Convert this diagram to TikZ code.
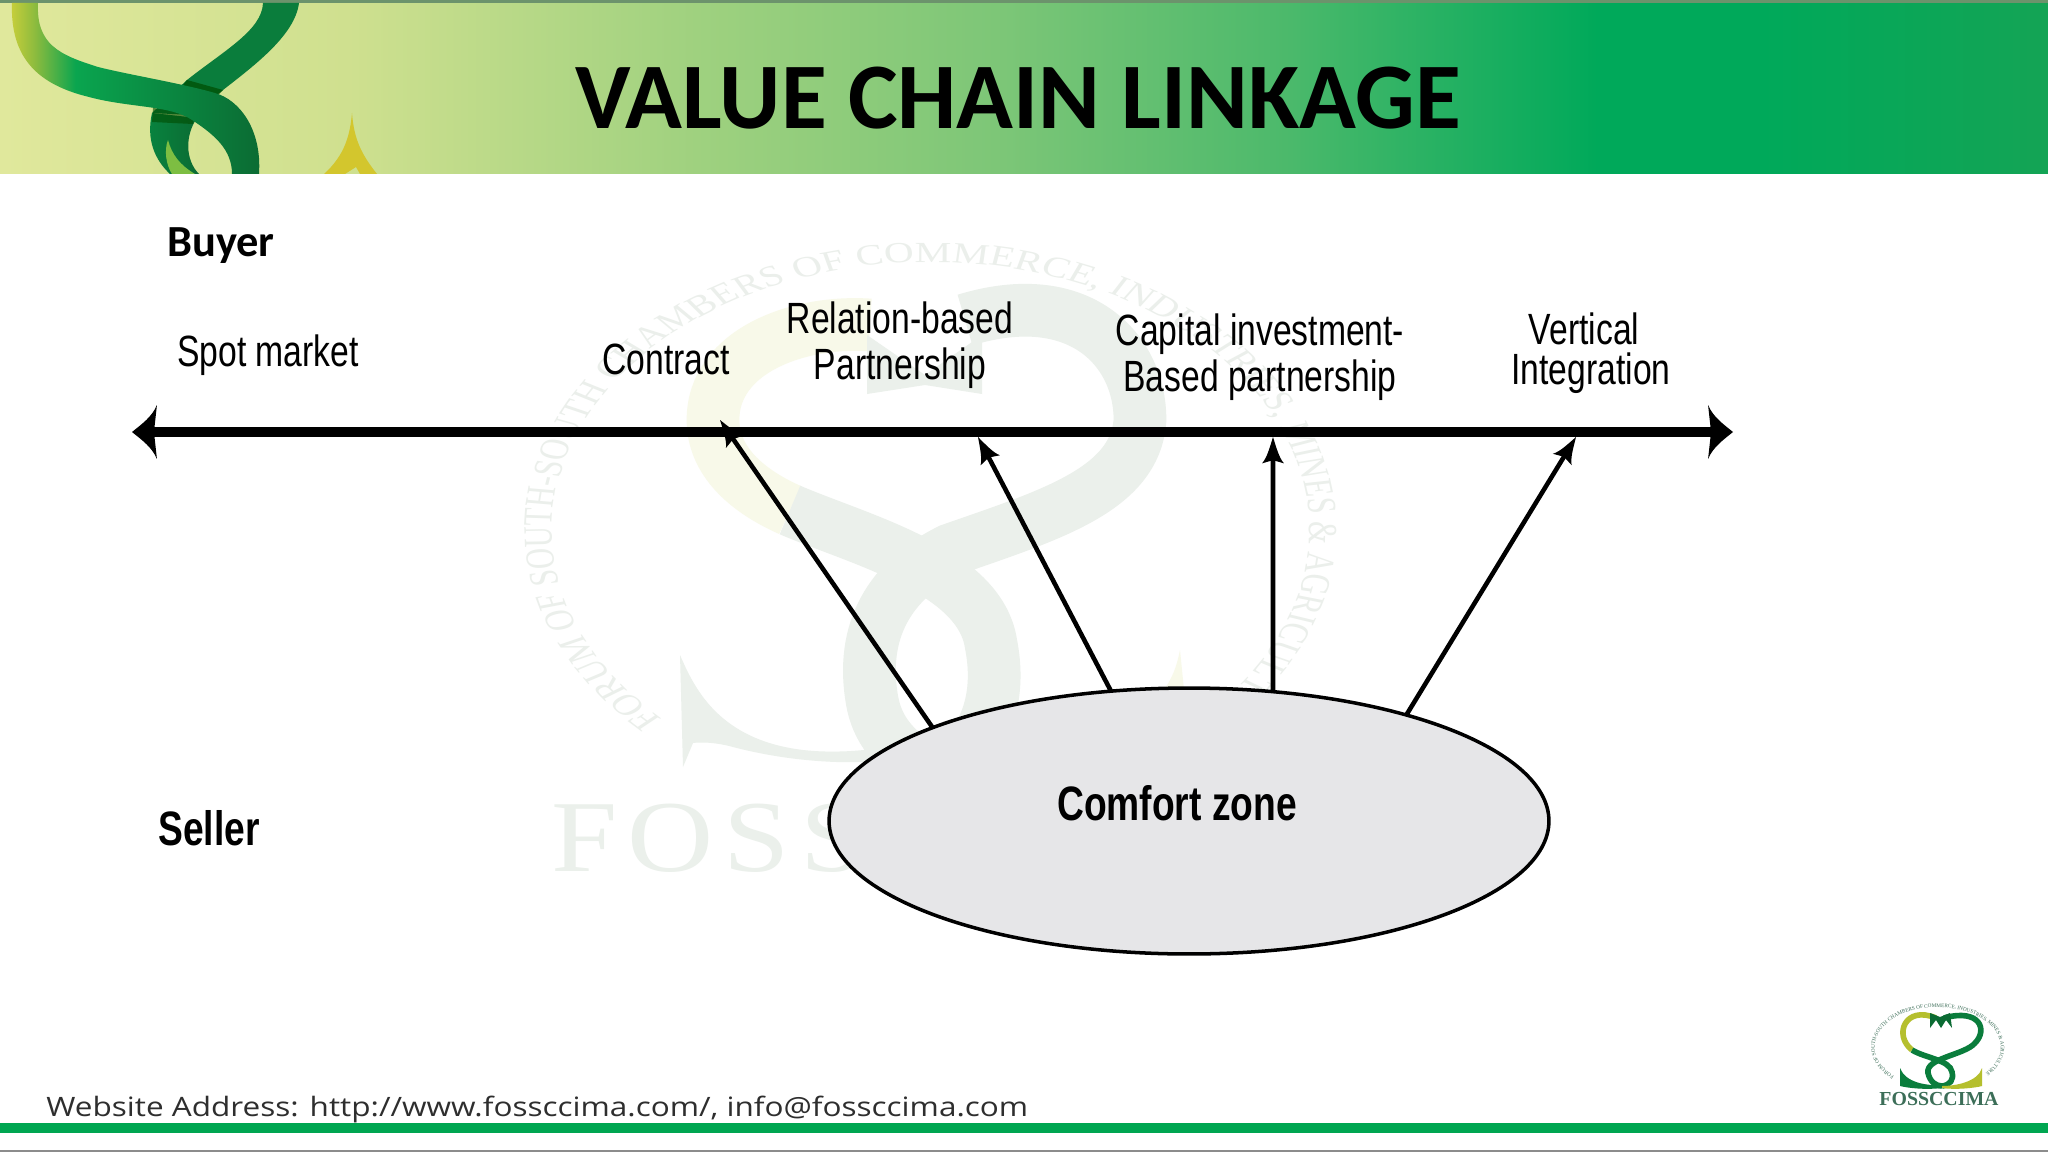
\documentclass[tikz,border=0pt]{standalone}
\usepackage{fontspec}
\setmainfont{Liberation Sans}
\newfontfamily\armn[FakeStretch=0.77]{Liberation Sans}
\newfontfamily\cali{Carlito}
\newfontfamily\webf[FakeStretch=1.18]{Open Sans}
\newfontfamily\wmf{Liberation Serif}
\newfontfamily\wmw[FakeStretch=1.17,LetterSpace=10]{Liberation Serif}
\usetikzlibrary{arrows.meta,shapes.geometric,decorations.text}
\definecolor{h0}{HTML}{E0E89C}\definecolor{h1}{HTML}{CFE08F}\definecolor{h2}{HTML}{9FD17F}
\definecolor{h3}{HTML}{7CC677}\definecolor{h4}{HTML}{4BB96B}\definecolor{h5}{HTML}{00A95A}
\definecolor{h6}{HTML}{14A455}
\definecolor{wm}{HTML}{EBF0EB}\definecolor{wmy}{HTML}{F8F9E9}\definecolor{wmt}{HTML}{EBEFEB}
\definecolor{zonefill}{HTML}{E6E6E8}\definecolor{fgreen}{HTML}{00A651}
\definecolor{dgreen}{HTML}{0A7D3C}\definecolor{ddgreen}{HTML}{0B6B33}
\definecolor{yhorn}{HTML}{D3C62D}\definecolor{logotxt}{HTML}{3C6E58}\definecolor{logoy}{HTML}{B5BF2E}
\definecolor{r0}{HTML}{C9CF3A}\definecolor{r1}{HTML}{8CBB3E}\definecolor{r2}{HTML}{0AA54F}\definecolor{r3}{HTML}{0A8A42}\definecolor{r4}{HTML}{0B6B33}
\pgfdeclarehorizontalshading{hdr}{100bp}{color(0bp)=(h0);color(25bp)=(h0);color(33.5bp)=(h1);color(42bp)=(h2);color(49.5bp)=(h3);color(56.5bp)=(h4);color(64bp)=(h5);color(68bp)=(h5);color(75bp)=(h6);color(100bp)=(h6)}
\pgfdeclarehorizontalshading{rib}{100bp}{color(0bp)=(r0);color(25bp)=(r0);color(30bp)=(r1);color(38bp)=(r2);color(55bp)=(r3);color(75bp)=(r4);color(100bp)=(r4)}
\pgfdeclarearrow{
  name=BarbHead,
  parameters={\the\pgfarrowlength,\the\pgfarrowwidth},
  setup code={
    \pgfarrowssettipend{\pgfarrowlength}
    \pgfarrowssetlineend{.5\pgfarrowlength}
    \pgfarrowssetbackend{0pt}
    \pgfarrowssavethe\pgfarrowlength
    \pgfarrowssavethe\pgfarrowwidth
  },
  drawing code={
    \pgfpathmoveto{\pgfqpoint{\pgfarrowlength}{0pt}}
    \pgfpathcurveto{\pgfqpoint{.6\pgfarrowlength}{.15\pgfarrowwidth}}{\pgfqpoint{.2\pgfarrowlength}{.28\pgfarrowwidth}}{\pgfqpoint{0pt}{.5\pgfarrowwidth}}
    \pgfpathlineto{\pgfqpoint{.12\pgfarrowlength}{0pt}}
    \pgfpathlineto{\pgfqpoint{0pt}{-.5\pgfarrowwidth}}
    \pgfpathcurveto{\pgfqpoint{.2\pgfarrowlength}{-.28\pgfarrowwidth}}{\pgfqpoint{.6\pgfarrowlength}{-.15\pgfarrowwidth}}{\pgfqpoint{\pgfarrowlength}{0pt}}
    \pgfpathclose
    \pgfusepathqfill
  },
  defaults={length=14pt,width=30pt}
}
\tikzset{
  axisline/.style={line width=6pt,{BarbHead[length=14.2pt,width=30.7pt]}-{BarbHead[length=14.2pt,width=30.7pt]}},
  link/.style={line width=2.6pt,-{BarbHead[length=15pt,width=12.5pt]}},
  lbl/.style={font={\armn\fontsize{24.9}{26}\selectfont},align=center,inner sep=0pt,text=black},
  boldlbl/.style={font={\armn\bfseries\fontsize{27.5}{28}\selectfont},align=center,inner sep=0pt,text=black},
  zone/.style={ellipse,draw=black,line width=2pt,fill=zonefill,minimum width=14.4cm,minimum height=5.32cm,inner sep=0pt,outer sep=0pt},
  wmband/.style={draw=wm,line width=30pt,line cap=butt},
}
\begin{document}
\begin{tikzpicture}[x=0.02cm,y=-0.02cm]
\useasboundingbox (0,0) rectangle (2048,1152);
\fill[white] (0,0) rectangle (2048,1152);
% header
\shade[shading=hdr] (0,0) rectangle (2048,174);
\fill[gray!85!green] (0,0) rectangle (2048,3);
% header ribbon
\begin{scope}
\clip (0,3) rectangle (420,174);
\fill[dgreen] (263,3) -- (299,3) .. controls (295,35) and (255,65) .. (223,90) -- (192,115) -- (152,113) -- (187,80) .. controls (225,50) and (262,30) .. (263,3) -- cycle;
\shade[left color=r2!80!black,right color=ddgreen] (152,113) .. controls (146,140) and (155,160) .. (170,174) -- (199,174) .. controls (185,160) and (185,135) .. (197,118) -- cycle;
\fill[r0!60!r2] (168,140) .. controls (172,155) and (180,165) .. (195,174) -- (172,174) .. controls (166,165) and (164,150) .. (168,140) -- cycle;
\fill[black!70!green,opacity=.7] (187,80) -- (223,90) -- (205,108) -- (175,95) -- cycle;
\fill[black!70!green,opacity=.6] (153,108) -- (195,112) -- (193,124) -- (152,122) -- cycle;
\shade[shading=rib] (12,3) .. controls (10,60) and (40,85) .. (89,97) .. controls (130,108) and (170,105) .. (192,120) .. controls (215,135) and (232,150) .. (232,174) -- (259,174) .. controls (262,130) and (240,100) .. (215,93) .. controls (180,83) and (130,75) .. (98,67) .. controls (60,55) and (36,45) .. (38,3) -- cycle;
\fill[yhorn] (352,113) .. controls (354,140) and (362,155) .. (377,174) -- (360,174) -- (356,167) -- (345,174) -- (324,174) .. controls (345,155) and (350,135) .. (352,113) -- cycle;
\end{scope}
\node[font={\cali\bfseries\fontsize{53.4}{60}\selectfont},inner sep=0pt] (title) at (1018,98) {VALUE CHAIN LINKAGE};
% watermark
\begin{scope}[transform canvas={xscale=1.414}]
\path[decorate,decoration={text along path,
  text={|\wmf\fontsize{16.6}{16.6}\selectfont\color{wmt}|FORUM OF SOUTH-SOUTH CHAMBERS OF COMMERCE, INDUSTRIES, MINES {\&} AGRICULTURE}}]
  (468.9,719.5) arc[start angle=225,end angle=-65,radius=5.36cm];
\end{scope}
\draw[wmband,wmy] (870,325) .. controls (800,320) and (713,350) .. (713,420) .. controls (713,460) and (745,490) .. (790,510);
\draw[wmband] (790,510) .. controls (860,540) and (980,570) .. (991,644) .. controls (1000,690) and (990,730) .. (960,760);
\draw[wmband] (965,320) .. controls (1080,285) and (1140,350) .. (1140,420) .. controls (1135,490) and (1050,515) .. (950,550) .. controls (890,580) and (860,630) .. (872,700) .. controls (877,730) and (895,750) .. (920,765);
\fill[wm] (680,655) .. controls (695,690) and (720,740) .. (803,750) .. controls (830,753) and (860,752) .. (900,745) -- (890,760) .. controls (850,765) and (790,762) .. (733,747) .. controls (715,742) and (700,742) .. (693,743) -- (683,767) -- cycle;
\fill[wmy] (1180,650) -- (1185,700) -- (1155,700) .. controls (1170,685) and (1176,670) .. (1180,650) -- cycle;
\fill[wm] (867,394) -- (867,335) -- (925,375) -- (982,335) -- (982,394) -- (925,385) -- cycle;
\node[font={\wmw\fontsize{58}{58}\selectfont},text=wm,anchor=west,inner sep=0pt] (wmname) at (551,838) {FOSS};
% diagram
\node[zone] (cz) at (1189,821) {};
\coordinate (axL) at (132,432);
\coordinate (axR) at (1733,432);
\coordinate (t1) at (720,420);
\coordinate (t2) at (978,437);
\coordinate (t3) at (1273,437);
\coordinate (t4) at (1576,437);
\draw[axisline] (axL) -- (axR);
\draw[link] (cz.160.5) -- (t1);
\draw[link] (cz.121.3) -- (t2);
\draw[link] (cz.57.1) -- (t3);
\draw[link] (cz.26.1) -- (t4);
\node[font={\cali\bfseries\fontsize{25.3}{28}\selectfont},inner sep=0pt] (buyer) at (221,246) {Buyer};
\node[lbl] (spot) at (268,355) {Spot market};
\node[lbl] (contract) at (666,359) {Contract};
\node[lbl] (rel) at (900,345) {Relation-based\\Partnership};
\node[lbl] (cap) at (1260,357) {Capital investment-\\Based partnership};
\node[lbl,font={\armn\fontsize{24.9}{22.5}\selectfont}] (vert) at (1591,353) {\hspace*{-8pt}Vertical\\Integration};
\node[boldlbl] (seller) at (209,828) {Seller};
\node[boldlbl] (cztext) at (1177,803) {Comfort zone};
% footer
\node[font={\webf\fontsize{15.2}{18}\selectfont},text=black!82,anchor=base west,inner sep=0pt] (web) at (46,1116) {Website Address: http://www.fossccima.com/, info@fossccima.com};
\fill[fgreen] (0,1123) rectangle (2048,1133);
\fill[gray!90] (0,1150) rectangle (2048,1152);
% corner logo
\path[decorate,decoration={text along path,
  text={|\wmf\fontsize{3}{3}\selectfont\color{logotxt}|FORUM OF SOUTH-SOUTH CHAMBERS OF COMMERCE, INDUSTRIES, MINES {\&} AGRICULTURE}}]
  (1894,1076) arc[start angle=226,end angle=-48,x radius=1.26cm,y radius=0.8cm];
\draw[logoy,line width=3.2pt] (1936,1018) .. controls (1905,1005) and (1893,1035) .. (1912,1050);
\draw[dgreen,line width=3.2pt] (1912,1050) .. controls (1925,1058) and (1950,1060) .. (1952,1072) .. controls (1954,1080) and (1950,1085) .. (1942,1086);
\draw[dgreen,line width=3.2pt] (1944,1018) .. controls (1980,1008) and (1988,1030) .. (1975,1043) .. controls (1965,1055) and (1925,1058) .. (1928,1073) .. controls (1930,1082) and (1936,1086) .. (1942,1086);
\fill[dgreen] (1900,1068) .. controls (1905,1082) and (1925,1086) .. (1942,1085) -- (1942,1088) .. controls (1925,1090) and (1908,1088) .. (1900,1086) -- cycle;
\fill[logoy] (1982,1068) .. controls (1978,1082) and (1955,1086) .. (1942,1086) -- (1942,1088) .. controls (1955,1090) and (1975,1088) .. (1982,1086) -- cycle;
\fill[ddgreen] (1930,1013) -- (1930,1028) -- (1936,1020) -- (1941,1028) -- (1946,1020) -- (1952,1028) -- (1950,1013) -- (1940,1017) -- cycle;
\node[font={\wmf\bfseries\fontsize{11.3}{12}\selectfont},text=logotxt,inner sep=0pt] (logoname) at (1939,1099) {FOSSCCIMA};
\end{tikzpicture}
\end{document}
